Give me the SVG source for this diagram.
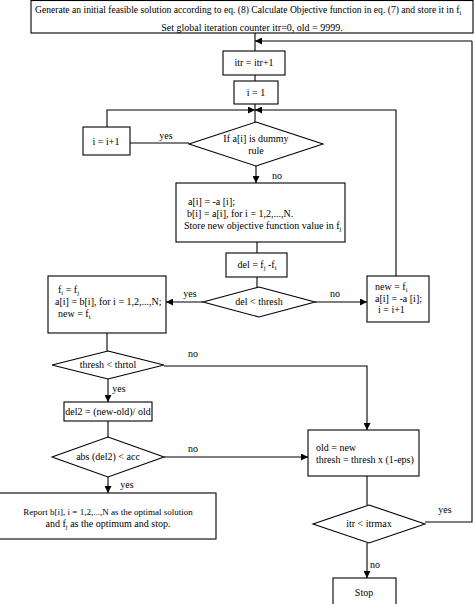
<svg xmlns="http://www.w3.org/2000/svg" width="474" height="604" viewBox="0 0 474 604">
<defs>
<style>
.box{fill:#fff;stroke:#000;stroke-width:1.1}
.ln{fill:none;stroke:#000;stroke-width:1.1}
.arr{fill:none;stroke:#000;stroke-width:1.1;marker-end:url(#ah)}
text{font-family:"Liberation Serif","Times New Roman",serif;font-size:10px;fill:#000}
.c{text-anchor:middle}
.s{font-size:6.5px}
</style>
<marker id="ah" viewBox="0 0 10 10" refX="10" refY="5" markerWidth="7" markerHeight="7" markerUnits="userSpaceOnUse" orient="auto">
<path d="M0,0 L10,5 L0,10 z" fill="#000"/>
</marker>
</defs>
<rect width="474" height="604" fill="#fff"/>

<g id="connectors">
<path class="arr" d="M472,41 H255"/>
<path class="ln" d="M472,41 V522 H425"/>
<path class="ln" d="M255,33 V51"/>
<path class="ln" d="M255,75 V81"/>
<path class="ln" d="M255,104 V122"/>
<path class="arr" d="M107,127 V110 H255"/>
<path class="arr" d="M396,276 V110 H255"/>
<path class="ln" d="M130,143 H189"/>
<path class="arr" d="M256,166 V183"/>
<path class="ln" d="M257,242 V253"/>
<path class="ln" d="M257,277 V287"/>
<path class="arr" d="M203,302 H166"/>
<path class="arr" d="M315,302 H367"/>
<path class="ln" d="M107,333 V351"/>
<path class="arr" d="M164,366 H367 V430"/>
<path class="arr" d="M108,379 V402"/>
<path class="ln" d="M108,421 V437"/>
<path class="arr" d="M164,457 H308"/>
<path class="arr" d="M108,477 V493"/>
<path class="ln" d="M367,476 V505"/>
<path class="arr" d="M367,543 V578"/>
<text x="166" y="139" class="c">yes</text>
<text x="277" y="179" class="c">no</text>
<text x="190" y="297" class="c">yes</text>
<text x="335" y="297" class="c">no</text>
<text x="193" y="357" class="c">no</text>
<text x="119" y="392" class="c">yes</text>
<text x="193" y="452" class="c">no</text>
<text x="127" y="488" class="c">yes</text>
<text x="445" y="513" class="c">yes</text>
<text x="375" y="568" class="c">no</text>
</g>

<g id="init">
<rect class="box" x="31" y="0.5" width="442" height="32.5"/>
<text x="35" y="13" style="font-size:9.6px">Generate an initial feasible  solution according to eq. (8) Calculate Objective function in eq. (7) and store it in f<tspan class="s" dy="2">i</tspan></text>
<text x="252" y="31" class="c">Set global iteration counter itr=0, old = 9999.</text>
</g>

<g id="itr-inc">
<rect class="box" x="223" y="51" width="62" height="24"/>
<text x="254" y="66" class="c">itr = itr+1</text>
</g>

<g id="i-init">
<rect class="box" x="234" y="81" width="44" height="23"/>
<text x="256" y="96" class="c">i = 1</text>
</g>

<g id="i-inc">
<rect class="box" x="83" y="127" width="47" height="28"/>
<text x="106" y="145" class="c">i = i+1</text>
</g>

<g id="dummy-check">
<polygon class="box" points="256,122 323,144 256,166 189,144"/>
<text x="256" y="142" class="c">If a[i] is dummy</text>
<text x="256" y="154" class="c">rule</text>
</g>

<g id="flip">
<rect class="box" x="176" y="183" width="169" height="59"/>
<text x="188" y="205">a[i] = -a [i];</text>
<text x="187" y="217">b[i] = a[i], for i = 1,2,...,N.</text>
<text x="184" y="229">Store new objective function value in f<tspan class="s" dy="2">j</tspan></text>
</g>

<g id="del">
<rect class="box" x="226" y="253" width="61" height="24"/>
<text x="257" y="268" class="c">del = f<tspan class="s" dy="2">j</tspan><tspan dy="-2"> -f</tspan><tspan class="s" dy="2">i</tspan></text>
</g>

<g id="del-check">
<polygon class="box" points="259,287 315,302 259,317 203,302"/>
<text x="259" y="305" class="c">del  &lt; thresh</text>
</g>

<g id="accept">
<rect class="box" x="48" y="276" width="118" height="57"/>
<text x="58" y="293">f<tspan class="s" dy="2">i</tspan><tspan dy="-2"> = f</tspan><tspan class="s" dy="2">j</tspan></text>
<text x="55" y="305">a[i] = b[i], for i = 1,2,...,N;</text>
<text x="58" y="317">new =  f<tspan class="s" dy="2">i</tspan></text>
</g>

<g id="reject">
<rect class="box" x="367" y="276" width="62" height="46"/>
<text x="375" y="290">new = f<tspan class="s" dy="2">i</tspan></text>
<text x="375" y="302">a[i] = -a [i];</text>
<text x="378" y="313">i = i+1</text>
</g>

<g id="thresh-check">
<polygon class="box" points="108,351 164,365 108,379 52,365"/>
<text x="108" y="368" class="c">thresh &lt; thrtol</text>
</g>

<g id="del2">
<rect class="box" x="64" y="402" width="88" height="19"/>
<text x="108" y="415" class="c">del2 = (new-old)/ old</text>
</g>

<g id="acc-check">
<polygon class="box" points="108,437 164,457 108,477 52,457"/>
<text x="108" y="460" class="c">abs (del2) &lt; acc</text>
</g>

<g id="update">
<rect class="box" x="308" y="430" width="111" height="46"/>
<text x="316" y="451">old = new</text>
<text x="316" y="463">thresh = thresh x (1-eps)</text>
</g>

<g id="report">
<rect class="box" x="-1" y="493" width="217" height="46"/>
<text x="108" y="515" class="c" style="font-size:9px">Report  b[i], i = 1,2,...,N as the optimal solution</text>
<text x="108" y="527" class="c">and  f<tspan class="s" dy="2">j</tspan><tspan dy="-2"> as the optimum and stop.</tspan></text>
</g>

<g id="itr-check">
<polygon class="box" points="369,505 425,524 369,543 313,524"/>
<text x="369" y="527" class="c">itr &lt; itrmax</text>
</g>

<g id="stop">
<rect class="box" x="333" y="578" width="63" height="32"/>
<text x="364" y="596" class="c">Stop</text>
</g>
</svg>
